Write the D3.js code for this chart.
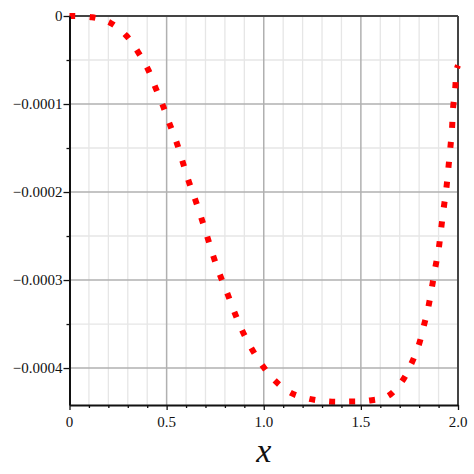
<!DOCTYPE html>
<html>
<head>
<meta charset="utf-8">
<script src="https://cdn.jsdelivr.net/npm/d3@7"></script>
<style>
  body { margin: 0; background: #fff; }
  text { font-family: "Liberation Serif", "DejaVu Serif", serif; }
</style>
</head>
<body>
<svg id="chart"></svg>
<script>
// curve (x, y in units of 1e-4)
const xs = [0, 0.117, 0.212, 0.291, 0.353, 0.403, 0.442, 0.481, 0.516, 0.552, 0.583, 0.614,
  0.648, 0.681, 0.711, 0.742, 0.776, 0.814, 0.850, 0.890, 0.938, 0.993, 1.056, 1.137,
  1.233, 1.334, 1.437, 1.540, 1.638, 1.712, 1.760, 1.798, 1.823, 1.847, 1.866, 1.883,
  1.901, 1.913, 1.926, 1.940, 1.950, 1.960, 1.969, 1.974, 1.985, 1.993, 2.0];
const ys = [0, -0.015, -0.08, -0.22, -0.41, -0.60, -0.81, -1.02, -1.23, -1.44, -1.66, -1.88,
  -2.09, -2.31, -2.52, -2.74, -2.95, -3.16, -3.37, -3.58, -3.78, -3.97, -4.14, -4.28,
  -4.35, -4.38, -4.38, -4.37, -4.32, -4.15, -3.95, -3.74, -3.53, -3.31, -3.08, -2.86,
  -2.64, -2.42, -2.19, -1.96, -1.74, -1.51, -1.29, -1.06, -0.84, -0.61, -0.56];

const xTicks = [0, 0.5, 1.0, 1.5, 2.0];
const xTickLabels = ["0", "0.5", "1.0", "1.5", "2.0"];
const yTicks = [0, -0.0001, -0.0002, -0.0003, -0.0004];
const yTickLabels = ["0", "\u22120.0001", "\u22120.0002", "\u22120.0003", "\u22120.0004"];

const W = 474, H = 474;
const pL = 69.5, pR = 458, pT = 16, pB = 405;

const svg = d3.select('#chart').attr('width', W).attr('height', H);

const x = d3.scaleLinear().domain([0, 2]).range([pL, pR]);
const y = d3.scaleLinear().domain([-0.000442, 0]).range([pB, pT]);

// minor grid
const xMinor = d3.range(1, 20).map(i => i / 10).filter(v => Math.abs(v * 2 - Math.round(v * 2)) > 1e-6);
const yMinor = d3.range(1, 9).map(i => -i * 0.00005).filter((v, i) => i % 2 === 0);

svg.append('g').selectAll('line').data(xMinor).join('line')
  .attr('x1', d => x(d)).attr('x2', d => x(d)).attr('y1', pT).attr('y2', pB)
  .attr('stroke', '#e6e6e6').attr('stroke-width', 1.3);
svg.append('g').selectAll('line').data(yMinor).join('line')
  .attr('x1', pL).attr('x2', pR).attr('y1', d => y(d)).attr('y2', d => y(d))
  .attr('stroke', '#e6e6e6').attr('stroke-width', 1.3);

// major grid
svg.append('g').selectAll('line').data(xTicks.slice(1, -1)).join('line')
  .attr('x1', d => x(d)).attr('x2', d => x(d)).attr('y1', pT).attr('y2', pB)
  .attr('stroke', '#b0b0b0').attr('stroke-width', 1.5);
svg.append('g').selectAll('line').data(yTicks.slice(1)).join('line')
  .attr('x1', pL).attr('x2', pR).attr('y1', d => y(d)).attr('y2', d => y(d))
  .attr('stroke', '#b0b0b0').attr('stroke-width', 1.5);

// frame top/right
svg.append('line').attr('x1', pL).attr('x2', pR).attr('y1', pT).attr('y2', pT)
  .attr('stroke', '#444').attr('stroke-width', 2);
svg.append('line').attr('x1', pR).attr('x2', pR).attr('y1', pT).attr('y2', pB)
  .attr('stroke', '#444').attr('stroke-width', 2);

// curve
const pts = xs.map((v, i) => [v, ys[i] * 1e-4]);
const line = d3.line().x(d => x(d[0])).y(d => y(d[1])).curve(d3.curveCatmullRom);
svg.append('path').datum(pts)
  .attr('d', line)
  .attr('fill', 'none')
  .attr('stroke', '#f00')
  .attr('stroke-width', 6)
  .attr('stroke-dasharray', '6,14');

// axes
const xAxis = d3.axisBottom(x).tickValues(d3.range(0, 21).map(i => i / 10))
  .tickSize(0).tickFormat('');
const gx = svg.append('g').attr('transform', `translate(0,${pB})`).call(xAxis);
gx.select('.domain').attr('stroke', '#111').attr('stroke-width', 2);
gx.selectAll('.tick line').attr('stroke', '#111').attr('stroke-width', 1.3)
  .attr('y2', d => (Math.abs(d * 2 - Math.round(d * 2)) < 1e-6 ? 5 : 3));

svg.append('g').selectAll('text').data(xTicks).join('text')
  .attr('x', d => x(d)).attr('y', pB + 22)
  .attr('text-anchor', 'middle').attr('font-size', 15).attr('fill', '#111')
  .text((d, i) => xTickLabels[i]);

const yAxis = d3.axisLeft(y).tickValues(d3.range(0, 9).map(i => -i * 0.00005))
  .tickSize(0).tickFormat('');
const gy = svg.append('g').attr('transform', `translate(${pL},0)`).call(yAxis);
gy.select('.domain').attr('stroke', '#111').attr('stroke-width', 2);
gy.selectAll('.tick line').attr('stroke', '#111').attr('stroke-width', 1.3)
  .attr('x2', (d, i) => (i % 2 === 0 ? -6 : -3));

svg.append('g').selectAll('text').data(yTicks).join('text')
  .attr('x', pL - 7).attr('y', d => y(d)).attr('dy', '0.35em')
  .attr('text-anchor', 'end').attr('font-size', 15).attr('fill', '#111')
  .text((d, i) => yTickLabels[i]);

svg.append('text').attr('x', (pL + pR) / 2).attr('y', 462)
  .attr('text-anchor', 'middle').attr('font-size', 34).attr('font-style', 'italic')
  .attr('fill', '#111').text('x');
</script>
</body>
</html>
